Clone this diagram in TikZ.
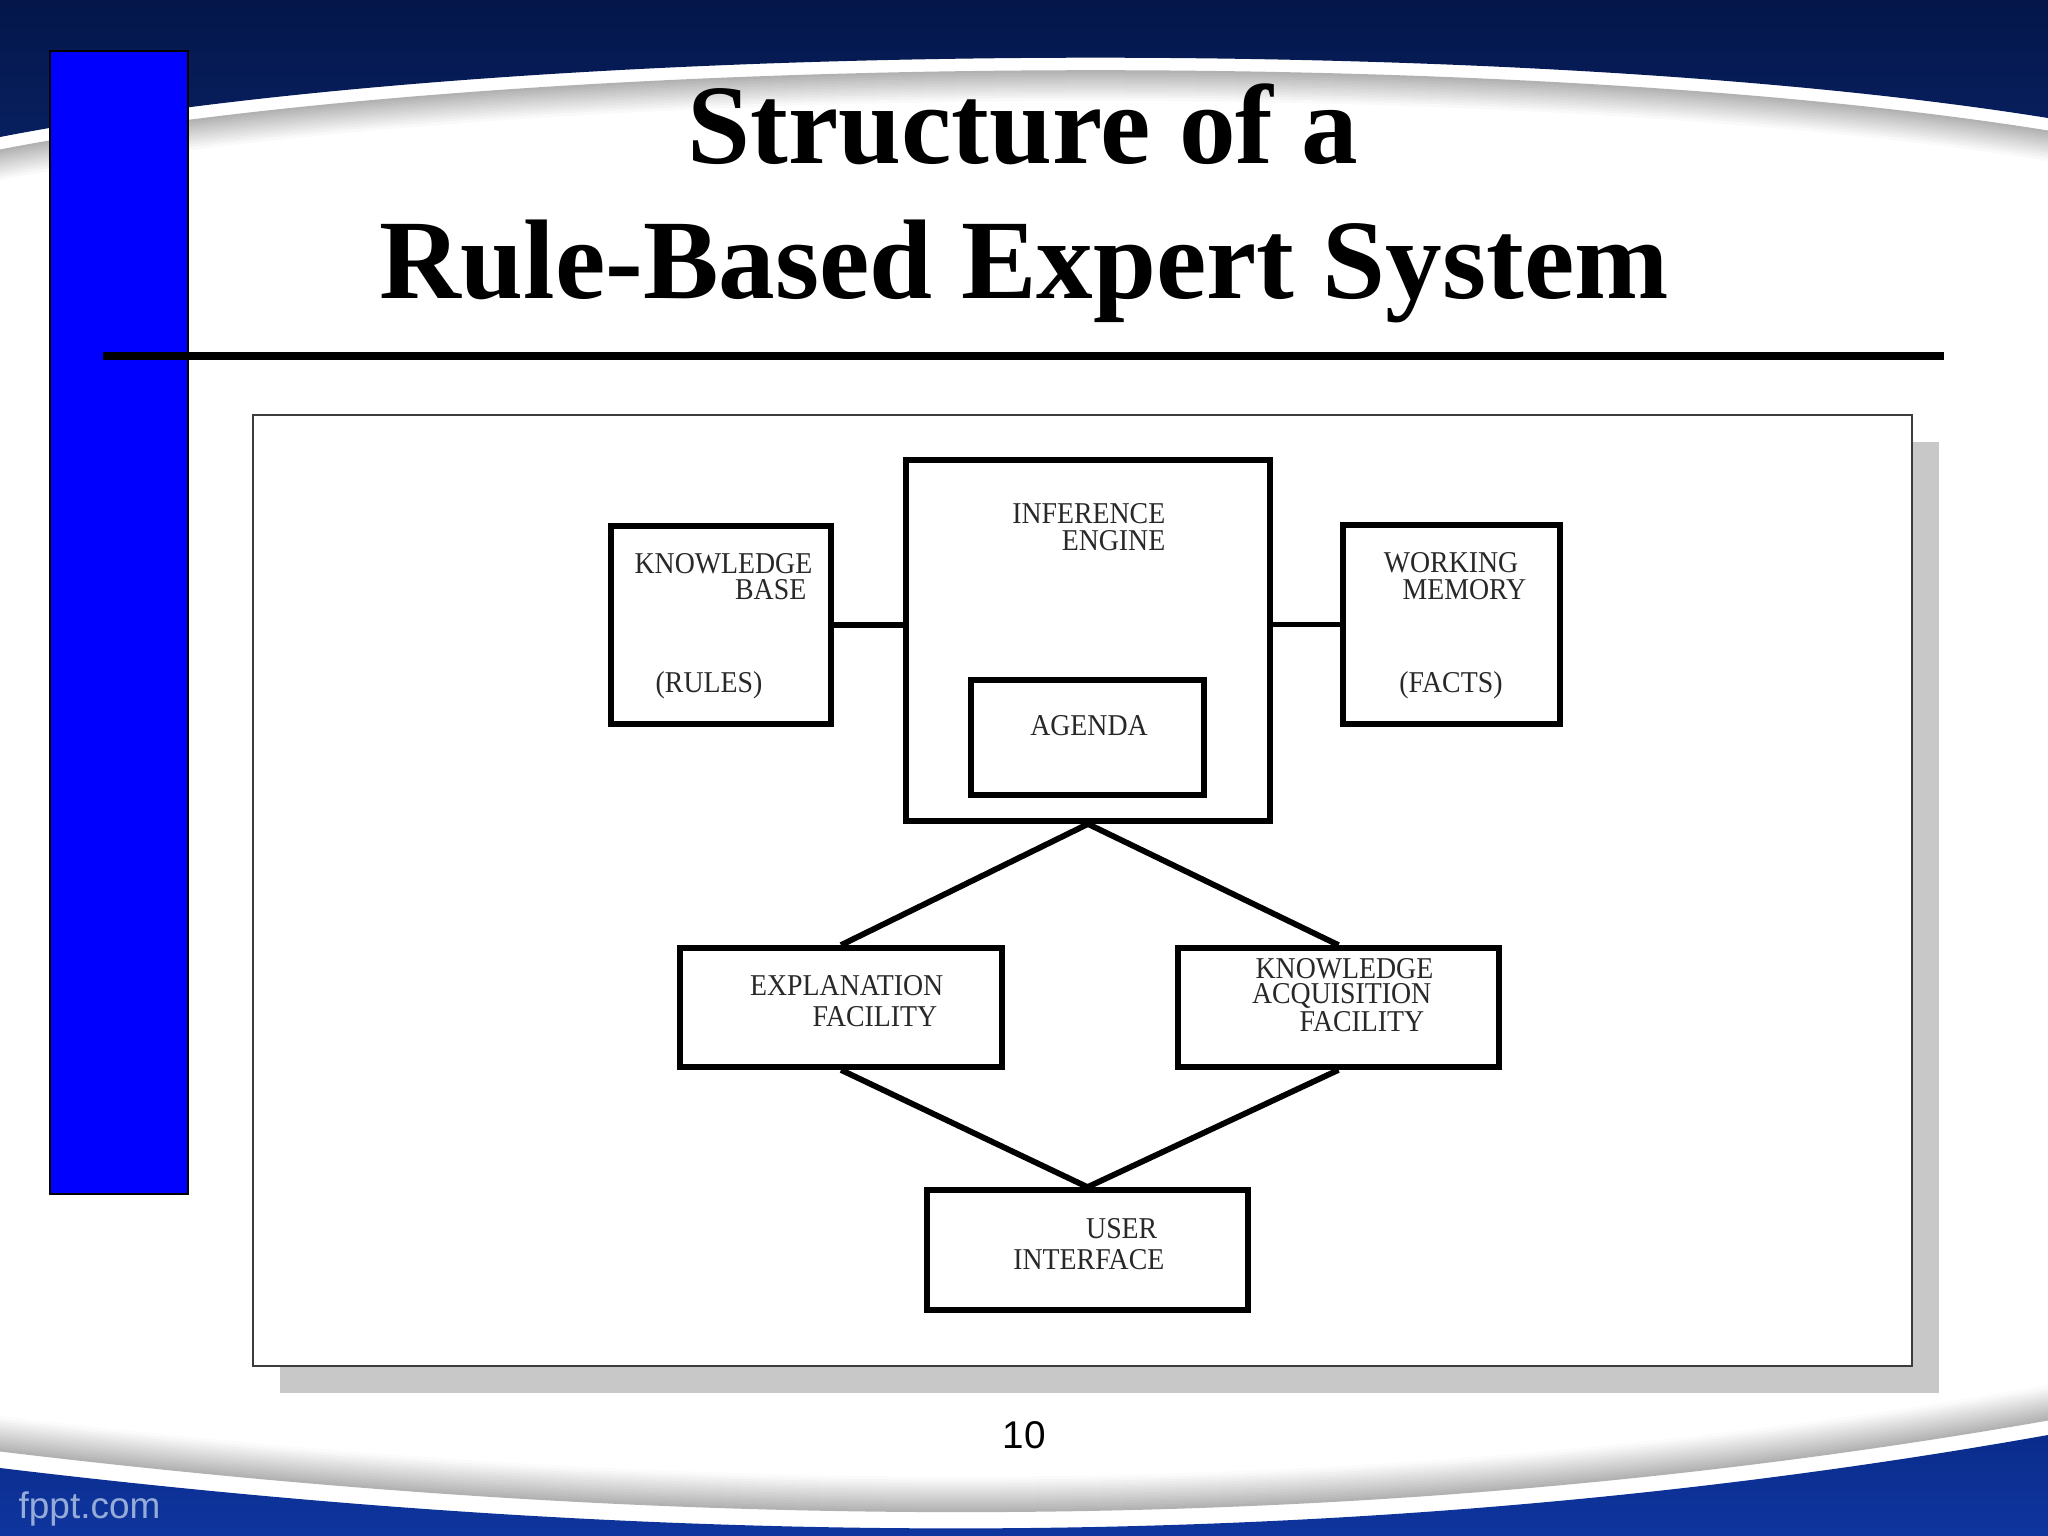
\documentclass[tikz,border=0pt]{standalone}
\usepackage{fontspec}
\setmainfont{Liberation Serif}
\newfontfamily\sansfont{Liberation Sans}
\newfontfamily\boxfont[FakeStretch=0.92]{Liberation Serif}
\definecolor{navy}{RGB}{8,32,96}
\definecolor{navytop}{RGB}{4,22,74}
\definecolor{footblue}{RGB}{16,56,164}
\definecolor{footdark}{RGB}{10,44,140}
\definecolor{barblue}{RGB}{0,0,255}
\definecolor{shadowgray}{RGB}{200,200,200}
\definecolor{framecol}{RGB}{60,60,60}
\definecolor{fpptcol}{RGB}{150,172,216}
\definecolor{txtcol}{RGB}{40,40,40}
\tikzset{
  box/.style={draw=black, line width=0.058cm, fill=white, inner sep=0pt},
  conn/.style={draw=black, line width=0.058cm, line join=round},
  lbl/.style={font=\boxfont\fontsize{8.6}{9}\selectfont, text=txtcol, inner sep=0pt},
  ttl/.style={font=\bfseries\fontsize{32.2}{38}\selectfont, inner sep=0pt},
}
\begin{document}
\begin{tikzpicture}[x=0.01cm,y=-0.01cm]
\useasboundingbox (0,0) rectangle (2048,1536);
\clip (0,0) rectangle (2048,1536);
\fill[white] (0,0) rectangle (2048,1536);
% top swoosh shadow
\foreach \i in {0,...,11} {
  \pgfmathsetmacro{\grayv}{30-2.5*\i}
  \draw[line width=0.03cm, draw=black!\grayv] (0,151+2.5*\i) .. controls (500,54+2.5*\i) and (1500,44+2.5*\i) .. (2048,132+2.5*\i);
}
% top navy band
\shade[top color=navytop, bottom color=navy] (0,0) -- (2048,0) -- (2048,118) .. controls (1500,30) and (500,40) .. (0,137) -- cycle;
% bottom swoosh shadow
\foreach \i in {0,...,13} {
  \pgfmathsetmacro{\grayv}{30-2.2*\i}
  \draw[line width=0.03cm, draw=black!\grayv] (0,1450-2.5*\i) .. controls (600,1522-2.5*\i) and (1300,1550-2.5*\i) .. (2048,1419-2.5*\i);
}
% bottom blue band
\shade[top color=footdark, bottom color=footblue] (0,1536) -- (0,1468) .. controls (600,1540) and (1300,1568) .. (2048,1435) -- (2048,1536) -- cycle;
\node[font=\sansfont\fontsize{10.5}{12}\selectfont, text=fpptcol, anchor=base west, inner sep=0pt] (fppt) at (18,1518) {fppt.com};
% left blue bar
\filldraw[fill=barblue, draw=black, line width=0.015cm] (50,51) rectangle (188,1194);
% title
\node[ttl, anchor=base] (title1) at (1023,163) {Structure of a};
\node[ttl, anchor=base] (title2) at (1024,298) {Rule-Based Expert System};
\draw[line width=0.08cm] (103,355.5) -- (1944,355.5);
% frame
\fill[shadowgray] (280,442) rectangle (1939,1393);
\filldraw[fill=white, draw=framecol, line width=0.025cm] (253,415) rectangle (1912,1366);
% page number
\node[font=\sansfont\fontsize{11}{13}\selectfont, anchor=base, inner sep=0pt] (pagenum) at (1024,1448) {10};
% boxes
\node[box, minimum width=2.20cm, minimum height=1.98cm] (kb) at (721,625) {};
\node[box, minimum width=3.64cm, minimum height=3.61cm] (ie) at (1088,640.5) {};
\node[box, minimum width=2.33cm, minimum height=1.15cm] (ag) at (1087.5,737.5) {};
\node[box, minimum width=2.17cm, minimum height=1.99cm] (wm) at (1451.5,624.5) {};
\node[box, minimum width=3.22cm, minimum height=1.19cm] (ef) at (841,1007.5) {};
\node[box, minimum width=3.21cm, minimum height=1.19cm] (kaf) at (1338.5,1007.5) {};
\node[box, minimum width=3.21cm, minimum height=1.20cm] (ui) at (1087.5,1250) {};
% connectors
\draw[conn] (kb.east) -- (kb.east -| ie.west);
\draw[conn] (wm.west -| ie.east) -- (wm.west);
\draw[conn] (ie.south) -- (ef.north);
\draw[conn] (ie.south) -- (kaf.north);
\draw[conn] (ef.south) -- (ui.north);
\draw[conn] (kaf.south) -- (ui.north);
% labels
\node[lbl, anchor=base east] (kbt1) at (813,573) {KNOWLEDGE};
\node[lbl, anchor=base east] (kbt2) at (807,599) {BASE};
\node[lbl, anchor=base] (kbt3) at (709,692) {(RULES)};
\node[lbl, anchor=base east] (iet1) at (1166,523) {INFERENCE};
\node[lbl, anchor=base east] (iet2) at (1166,550) {ENGINE};
\node[lbl, anchor=base] (agt) at (1089,735) {AGENDA};
\node[lbl, anchor=base east] (wmt1) at (1519,572) {WORKING};
\node[lbl, anchor=base east] (wmt2) at (1527,599) {MEMORY};
\node[lbl, anchor=base] (wmt3) at (1451,692) {(FACTS)};
\node[lbl, anchor=base east] (eft1) at (944,995) {EXPLANATION};
\node[lbl, anchor=base east] (eft2) at (938,1026) {FACILITY};
\node[lbl, anchor=base east] (kaft1) at (1434,978) {KNOWLEDGE};
\node[lbl, anchor=base east] (kaft2) at (1432,1003) {ACQUISITION};
\node[lbl, anchor=base east] (kaft3) at (1425,1031) {FACILITY};
\node[lbl, anchor=base east] (uit1) at (1158,1238) {USER};
\node[lbl, anchor=base east] (uit2) at (1165,1269) {INTERFACE};
\end{tikzpicture}
\end{document}
